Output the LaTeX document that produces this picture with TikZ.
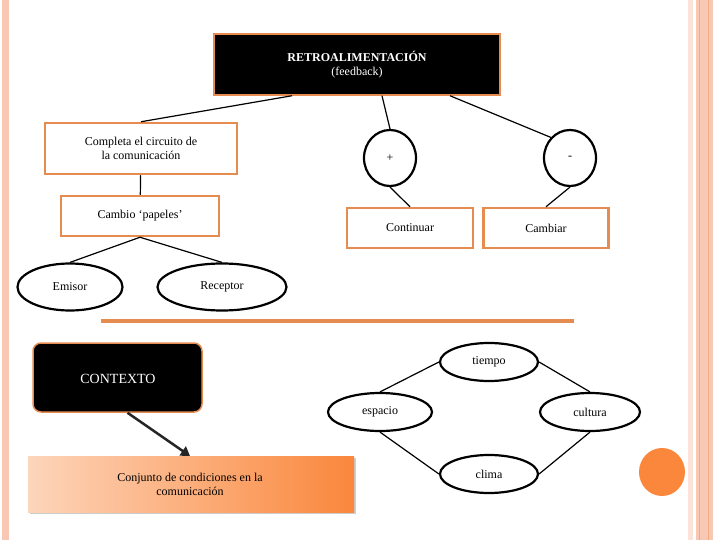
\documentclass[tikz,border=0pt]{standalone}
\usepackage{fontspec}
\setmainfont{Liberation Serif}
\usetikzlibrary{shapes.geometric,arrows.meta,shadows}
\definecolor{borde}{RGB}{230,140,80}
\definecolor{banda}{RGB}{248,200,180}
\definecolor{naranja}{RGB}{250,135,60}
\tikzset{
  caja/.style={draw=borde, line width=2.5pt, fill=white, align=center, inner sep=0pt},
  negra/.style={draw=borde, line width=1.5pt, fill=black, text=white, align=center, inner sep=0pt},
  elipse/.style={ellipse, draw=black, line width=2.2pt, fill=white, inner sep=0pt},
  enlace/.style={line width=1.2pt}
}
\begin{document}
\begin{tikzpicture}[x=1pt,y=-1pt,font=\fontsize{12}{14}\selectfont]
    \useasboundingbox (0,0) rectangle (720,540);

    % page bands
    \fill[banda] (2,0) rectangle (9,540);
    \fill[banda!50] (688,0) rectangle (693,540);
    \fill[banda] (696,0) rectangle (713,540);
    \draw[borde!70, line width=0.8pt] (699,0) -- (699,540) (708,0) -- (708,540);

    % feedback tree
    \node[negra, minimum width=286, minimum height=61] (retro) at (357,64.5)
        {\textbf{RETROALIMENTACIÓN}\\(feedback)};
    \node[caja, minimum width=192, minimum height=51] (completa) at (141,148.5)
        {Completa el circuito de\\la comunicación};
    \node[caja, minimum width=158, minimum height=40] (cambio) at (140,216) {Cambio ‘papeles’};
    \node[elipse, minimum width=105, minimum height=47] (emisor) at (70,287) {Emisor};
    \node[elipse, minimum width=129, minimum height=47] (receptor) at (222,287) {Receptor};
    \node[elipse, minimum width=52, minimum height=56] (mas) at (390,158) {+};
    \node[elipse, minimum width=52, minimum height=56] (menos) at (570,158) {-};
    \node[caja, minimum width=126, minimum height=40] (continuar) at (410,228) {Continuar};
    \node[caja, minimum width=125, minimum height=40] (cambiar) at (546,228) {Cambiar};

    \draw[enlace] (retro.south) ++(-65,0) -- (completa.north);
    \draw[enlace] (completa) -- (cambio);
    \draw[enlace] (cambio.south) -- (emisor.north);
    \draw[enlace] (cambio.south) -- (receptor.north);
    \draw[enlace] (retro.south) ++(25,0) -- (mas.north);
    \draw[enlace] (retro.south) ++(93,0) -- (menos.north west);
    \draw[enlace] (mas.south) -- (continuar.north);
    \draw[enlace] (menos.south) -- (cambiar.north);

    % separator
    \draw[borde, line width=4pt] (101,321) -- (574,321);

    % context
    \node[negra, rounded corners=8pt, minimum width=169, minimum height=69] (contexto) at (117.5,377.5) {};
    \node[text=white, font=\fontsize{14}{16}\selectfont] (ctexto) at (118,379) {CONTEXTO};
    \shade[left color=naranja!35, right color=naranja, drop shadow={opacity=0.4}] (28,456) rectangle (354,512);
    \node[align=center] (conjunto) at (190,484) {Conjunto de condiciones en la\\comunicación};
    \draw[line width=2.5pt, -{Triangle[length=9pt,width=11pt]}, black!85] (contexto.south) ++(10,0) -- (190,456);

    % ring of factors
    \node[elipse, minimum width=98, minimum height=38] (tiempo) at (489,362) {tiempo};
    \node[elipse, minimum width=104, minimum height=38] (espacio) at (380,412) {espacio};
    \node[elipse, minimum width=100, minimum height=38] (cultura) at (590,412) {cultura};
    \node[elipse, minimum width=98, minimum height=38] (clima) at (489,474) {clima};
    \draw[enlace] (tiempo.west) -- (espacio.north);
    \draw[enlace] (tiempo.east) -- (cultura.north);
    \draw[enlace] (espacio.south) -- (clima.west);
    \draw[enlace] (cultura.south) -- (clima.east);

    \fill[naranja] (662,472) ellipse (23 and 24);
\end{tikzpicture}
\end{document}
